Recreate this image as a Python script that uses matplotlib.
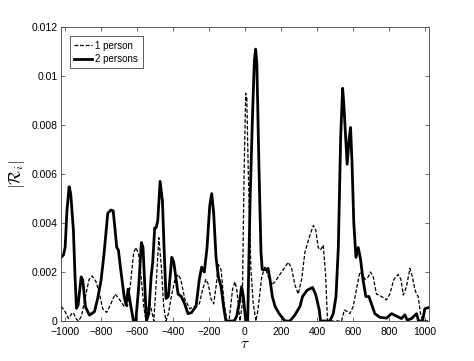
import numpy as np
import matplotlib
matplotlib.use("Agg")
import matplotlib.pyplot as plt
from matplotlib.ticker import FuncFormatter

plt.rcParams['font.family'] = ['Liberation Sans', 'DejaVu Sans']
plt.rcParams['mathtext.fontset'] = 'cm'

# 1 person (dashed)
tau1 = [-1022, -1000, -981, -963, -954, -940, -926, -909, -887, -867, -850, -828, -809,
        -791, -769, -746, -722, -700, -672, -654, -637, -619, -606, -591, -576, -563,
        -550, -535, -526, -507, -494, -479, -465, -452, -439, -426, -407, -389, -372,
        -357, -335, -307, -281, -254, -235, -217, -204, -189, -174, -161, -148, -133,
        -115, -100, -87, -69, -56, -46, -37, -28, -15, -5, 4, 7, 10, 18, 33, 46, 61,
        72, 93, 111, 130, 148, 167, 185, 213, 241, 259, 278, 296, 315, 333, 361, 380,
        394, 407, 420, 435, 448, 459, 537, 552, 565, 583, 602, 620, 639, 654, 667,
        685, 698, 713, 731, 759, 787, 805, 828, 852, 867, 880, 898, 917, 931, 944,
        954, 963, 976, 987, 1009, 1022]
r1 = [0.0006, 0.00038, 0.0001, 0.0003, 0.00034, 0.0001, 0.0, 0.0002, 0.0010, 0.0017,
      0.00184, 0.0016, 0.0011, 0.0005, 0.00035, 0.0007, 0.0011, 0.0009, 0.0006, 0.0006,
      0.0015, 0.0028, 0.0030, 0.0027, 0.0017, 0.0006, 0.0, 0.0007, 0.00065, 0.0, 0.0015,
      0.0034, 0.0022, 0.0006, 0.0, 0.0003, 0.0011, 0.0017, 0.0019, 0.0017, 0.0009,
      0.0005, 0.0006, 0.0007, 0.0013, 0.0017, 0.0015, 0.0009, 0.0007, 0.0014, 0.0023,
      0.0021, 0.00065, 0.0, 0.0001, 0.0013, 0.0016, 0.0013, 0.0007, 0.0, 0.0007, 0.0060,
      0.0093, 0.0090, 0.0091, 0.0062, 0.0021, 0.0007, 0.0, 0.00045, 0.0018, 0.0022,
      0.0018, 0.00148, 0.0016, 0.0018, 0.0021, 0.0024, 0.00215, 0.00147, 0.0011, 0.0017,
      0.0028, 0.0035, 0.0039, 0.0037, 0.0030, 0.0029, 0.0031, 0.0019, 0.0, 0.0, 0.00045,
      0.0004, 0.0003, 0.0006, 0.0013, 0.0020, 0.0019, 0.0017, 0.0018, 0.0020, 0.0018,
      0.0011, 0.0010, 0.00086, 0.0011, 0.0017, 0.0019, 0.0017, 0.00106, 0.0014, 0.00215,
      0.0018, 0.0013, 0.0011, 0.0010, 0.0003, 0.00004, 0.0, 0.0]

# 2 persons (solid)
tau2 = [-1022, -1009, -1000, -990, -978, -969, -954, -945, -937, -928, -911, -902, -887,
        -865, -837, -819, -800, -783, -763, -746, -733, -722, -713, -704, -691, -672,
        -661, -650, -637, -620, -607, -591, -576, -567, -548, -535, -522, -513, -502,
        -494, -485, -472, -459, -450, -439, -426, -407, -396, -372, -354, -335, -317,
        -298, -272, -254, -241, -226, -211, -196, -185, -174, -161, -148, -133, -119,
        -106, -60, -46, -28, -19, -9, 4, 15, 28, 41, 52, 59, 66, 78, 89, 96, 120, 128,
        139, 152, 167, 190, 222, 250, 278, 306, 320, 346, 376, 394, 413, 420, 472, 491,
        506, 519, 532, 543, 550, 568, 580, 587, 595, 605, 617, 630, 643, 656, 672, 689,
        703, 722, 750, 787, 815, 842, 870, 889, 902, 926, 954, 965, 987, 1000, 1022]
r2 = [0.0026, 0.0027, 0.0030, 0.0045, 0.00548, 0.0052, 0.0037, 0.0018, 0.00052, 0.00065,
      0.0018, 0.00167, 0.00058, 0.00024, 0.00038, 0.00092, 0.00167, 0.0028, 0.0044,
      0.00453, 0.0045, 0.0037, 0.0030, 0.0029, 0.0021, 0.0010, 0.00065, 0.0013, 0.0007,
      0.0, 0.0, 0.0014, 0.0032, 0.0030, 0.0, 0.0003, 0.0018, 0.0024, 0.0038, 0.0038,
      0.0041, 0.0057, 0.0049, 0.0030, 0.00092, 0.0010, 0.0026, 0.0024, 0.0011, 0.0010,
      0.0007, 0.0003, 0.00034, 0.0006, 0.0017, 0.0022, 0.0020, 0.0030, 0.0047, 0.0052,
      0.0044, 0.0026, 0.0018, 0.0014, 0.00058, 0.0, 0.0, 0.0002, 0.0009, 0.0014, 0.0010,
      0.0, 0.0, 0.0048, 0.0082, 0.0106, 0.0111, 0.0105, 0.0062, 0.0028, 0.0021, 0.0021,
      0.00215, 0.0017, 0.0010, 0.0006, 0.0003, 0.0, 0.0, 0.00025, 0.0006, 0.0010,
      0.00126, 0.00137, 0.00106, 0.00045, 0.0, 0.0, 0.0003, 0.0010, 0.0030, 0.0075,
      0.0095, 0.0088, 0.0064, 0.0075, 0.0079, 0.0065, 0.0040, 0.0026, 0.0030, 0.0025,
      0.0017, 0.0010, 0.0010, 0.0007, 0.0003, 0.00015, 0.00012, 0.0003, 0.0002, 0.0001,
      0.00025, 0.00004, 0.0001, 0.0003, 0.0, 0.0, 0.0005, 0.00055]

xticks = np.arange(-1000, 1001, 200)
yticks = np.arange(0, 0.0121, 0.002)

fig = plt.figure(figsize=(4.74, 3.61), dpi=100)
ax = fig.add_axes([0.1287, 0.1108, 0.7763, 0.8142])

ax.plot(tau1, r1, 'k--', lw=0.9, dashes=(3, 1.5), label='1 person')
ax.plot(tau2, r2, 'k-', lw=2.0, label='2 persons')

ax.set_xlim(-1023, 1023)
ax.set_ylim(0, 0.012)
ax.set_xticks(xticks)
ax.set_yticks(yticks)
ax.yaxis.set_major_formatter(FuncFormatter(lambda v, p: '%g' % round(v, 4)))
ax.tick_params(direction='in', top=True, right=True, labelsize=7.5, length=3,
               width=0.5, colors='#333333', labelcolor='black', pad=2.5)
ax.tick_params(axis='x', pad=4.5)
for s in ax.spines.values():
    s.set_linewidth(0.6)
    s.set_color('#444444')

ax.set_xlabel(r'$\tau$', fontsize=11, labelpad=0)
ax.set_ylabel(r'$|\mathcal{R}_i|$', fontsize=12, labelpad=3)

leg = ax.legend(loc='upper left', fontsize=7, handlelength=1.9, handletextpad=0.3,
                borderpad=0.45, labelspacing=0.35, fancybox=False, framealpha=1,
                bbox_to_anchor=(0.01, 0.985))
leg.get_frame().set_edgecolor('#444444')
leg.get_frame().set_linewidth(0.6)

fig.savefig('out.png', dpi=100)
